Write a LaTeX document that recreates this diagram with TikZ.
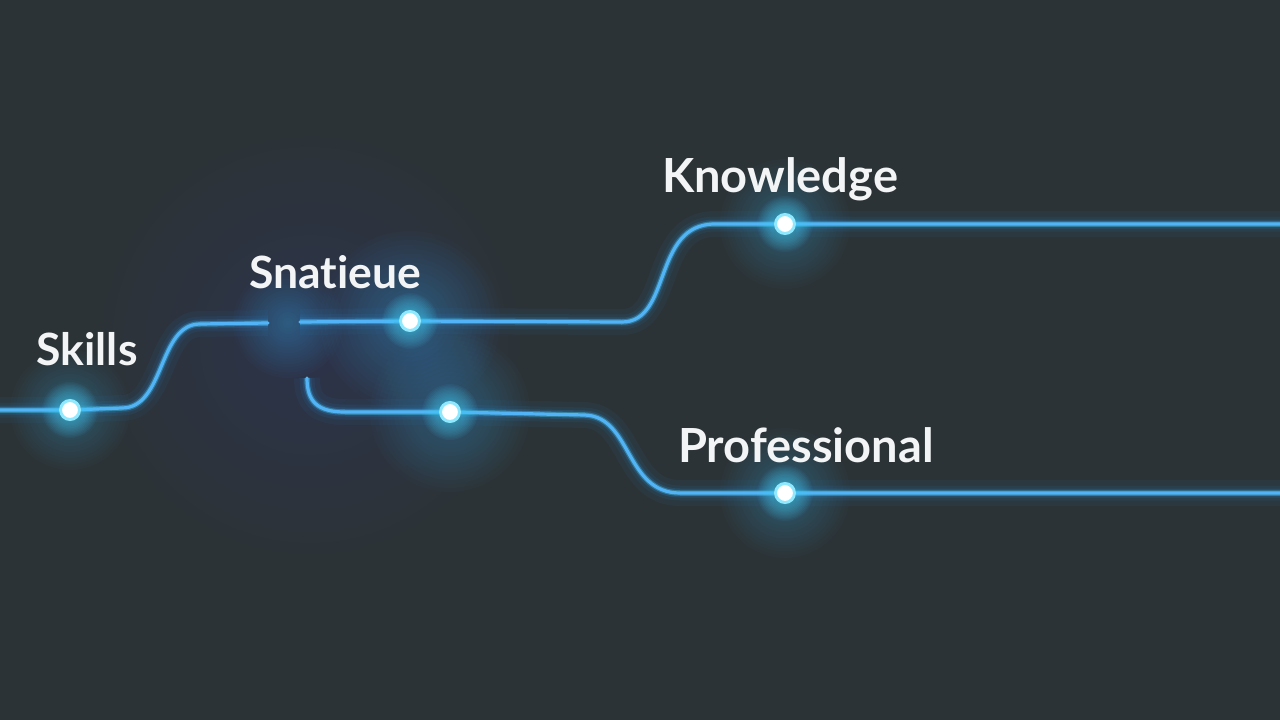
\documentclass[tikz,border=0pt]{standalone}
\usepackage{fontspec}
\setmainfont{Lato}[Ligatures={NoCommon}]
\definecolor{bg}{HTML}{2C3336}
\definecolor{core}{HTML}{52B4F6}
\definecolor{glowb}{HTML}{2A98F0}
\definecolor{auraC}{HTML}{3AAEF2}
\definecolor{cyanb}{HTML}{46D8FF}
\definecolor{txt}{HTML}{F2F4F5}
\pgfdeclarelayer{under}
\pgfdeclarelayer{front}
\pgfsetlayers{under,main,front}
\newcommand\myglow[4]{%
  \foreach \i in {1,...,20} {\fill[#3, fill opacity=#4] (#1) circle ({#2*\i/20});}}
\tikzset{
  glowline/.style={draw=core, line width=3.2pt, line cap=round,
    preaction={draw=glowb, line width=26pt, draw opacity=0.05},
    preaction={draw=glowb, line width=15pt, draw opacity=0.08},
    preaction={draw=glowb, line width=9pt, draw opacity=0.15},
    preaction={draw=cyanb, line width=5.5pt, draw opacity=0.35}},
  dot/.style={circle, fill=white, draw=cyanb!60!white, line width=3pt, minimum size=19pt, inner sep=0pt},
  lbl/.style={text=txt, font=\fontsize{47}{52}\selectfont\bfseries, anchor=base, inner sep=0pt},
  lbls/.style={lbl, font=\fontsize{44.5}{50}\selectfont\bfseries},
  way/.style={coordinate}
}
\begin{document}
\begin{tikzpicture}[x=1pt,y=-1pt]
  \useasboundingbox (0,0) rectangle (1280,720);
  % positions
  \coordinate (P1) at (70,410);
  \coordinate (P2) at (410,321);
  \coordinate (P3) at (450,412);
  \coordinate (P4) at (785,224);
  \coordinate (P5) at (785,493);
  \coordinate (G0) at (310,345);
  \coordinate (G1) at (288,323);
  % way points
  \node[way] (st) at (0,410) {};
  \node[way] (a1) at (122,408) {};
  \node[way] (a2) at (200,324) {};
  \node[way] (j1) at (268,323) {};
  \node[way] (j2) at (300,322) {};
  \node[way] (b1) at (622,322) {};
  \node[way] (b2) at (715,224) {};
  \node[way] (e1) at (1280,224) {};
  \node[way] (c0) at (307,378) {};
  \node[way] (c1) at (345,412) {};
  \node[way] (c2) at (585,415) {};
  \node[way] (c3) at (680,493) {};
  \node[way] (e2) at (1280,493) {};
  % background and diffuse glows
  \begin{pgfonlayer}{under}
    \fill[bg] (0,0) rectangle (1280,720);
    \myglow{G0}{220}{auraC}{0.009}
    \myglow{G1}{55}{auraC}{0.022}
    \myglow{P1}{60}{auraC}{0.02}
    \myglow{P2}{90}{auraC}{0.022}
    \myglow{P3}{80}{auraC}{0.02}
    \myglow{P4}{65}{auraC}{0.018}
    \myglow{P5}{65}{auraC}{0.018}
  \end{pgfonlayer}
  % dots
  \begin{pgfonlayer}{front}
    \foreach \p in {P1,P2,P3,P4,P5} {\myglow{\p}{28}{cyanb}{0.05}}
    \node[dot] (s1) at (P1) {};
    \node[dot] (s2) at (P2) {};
    \node[dot] (s3) at (P3) {};
    \node[dot] (k) at (P4) {};
    \node[dot] (p) at (P5) {};
  \end{pgfonlayer}
  % connectors
  \draw[glowline] (st) -- (s1) -- (a1) .. controls (165,408) and (158,324) .. (a2) -- (j1);
  \draw[glowline] (j2) -- (s2) -- (b1) .. controls (672,322) and (652,224) .. (b2) -- (k) -- (e1);
  \draw[glowline] (c0) .. controls (307,402) and (318,412) .. (c1) -- (s3) -- (c2) .. controls (632,417) and (625,493) .. (c3) -- (p) -- (e2);
  % labels
  \node[lbls] (tSkills) at (87,365) {Skills};
  \node[lbls] (tSn) at (335,288) {Snatieue};
  \node[lbl] (tK) at (780,192) {Knowledge};
  \node[lbl] (tP) at (806,462) {Professional};
\end{tikzpicture}
\end{document}
